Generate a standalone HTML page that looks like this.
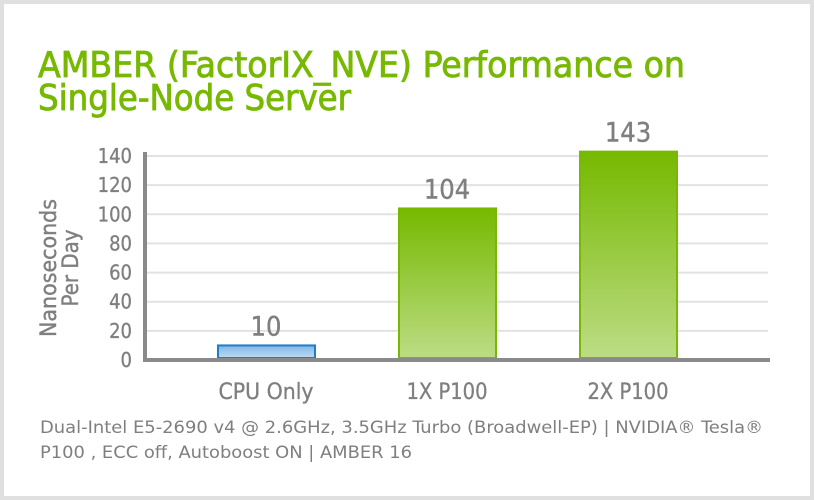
<!DOCTYPE html>
<html><head><meta charset="utf-8"><style>
html,body{margin:0;padding:0;background:#fff}
svg{display:block;font-family:"DejaVu Sans Condensed","Liberation Sans",sans-serif}
</style></head><body>
<svg id="c" width="814" height="500" viewBox="0 0 814 500">
<defs>
<linearGradient id="gg" x1="0" y1="0" x2="0" y2="1"><stop offset="0" stop-color="#76b900"/><stop offset="1" stop-color="#bcdc85"/></linearGradient>
<linearGradient id="bg" x1="0" y1="0" x2="0" y2="1"><stop offset="0" stop-color="#7fb6e6"/><stop offset="1" stop-color="#bfdcf3"/></linearGradient>
</defs>
<rect x="2" y="2" width="810" height="496" fill="#fff" stroke="#e0e0e0" stroke-width="4"/>
<text x="38" y="77" font-size="36" fill="#76b900" stroke="#76b900" stroke-width="0.8" textLength="647" lengthAdjust="spacingAndGlyphs">AMBER (FactorIX_NVE) Performance on</text>
<text x="38" y="110" font-size="36" fill="#76b900" stroke="#76b900" stroke-width="0.8" textLength="313" lengthAdjust="spacingAndGlyphs">Single-Node Server</text>
<g id="grid"></g>
<g id="bars"></g>
<line x1="145" y1="152" x2="145" y2="361" stroke="#8a8a8a" stroke-width="4"/>
<line x1="143" y1="360" x2="770" y2="360" stroke="#8a8a8a" stroke-width="4"/>
<g transform="translate(56,268) rotate(-90)" fill="#7f7f7f" stroke="#7f7f7f" stroke-width="0.4" font-size="22" text-anchor="middle">
<text x="0" y="0" textLength="138" lengthAdjust="spacingAndGlyphs">Nanoseconds</text>
<text x="0" y="22" textLength="77" lengthAdjust="spacingAndGlyphs">Per Day</text>
</g>
<text x="40" y="433" font-size="17" fill="#7f7f7f" textLength="723" lengthAdjust="spacingAndGlyphs">Dual-Intel E5-2690 v4 @ 2.6GHz,  3.5GHz Turbo (Broadwell-EP)  |  NVIDIA® Tesla®</text>
<text x="40" y="458" font-size="17" fill="#7f7f7f" textLength="372" lengthAdjust="spacingAndGlyphs">P100 , ECC off, Autoboost ON  |  AMBER 16</text>
</svg>
<script>
const categories = ["CPU Only", "1X P100", "2X P100"];
const values = [10, 104, 143];
const yTicks = [0, 20, 40, 60, 80, 100, 120, 140];
const NS = "http://www.w3.org/2000/svg";
const y = v => 360 - v * (204 / 140);
const xc = i => 266 + i * 181;
const grid = document.getElementById("grid");
const bars = document.getElementById("bars");
function mk(tag, attrs, parent, text) {
  const e = document.createElementNS(NS, tag);
  for (const k in attrs) e.setAttribute(k, attrs[k]);
  if (text !== undefined) e.textContent = text;
  parent.appendChild(e);
  return e;
}
yTicks.forEach(t => {
  if (t > 0) {
    const l = mk("line", {x1: 147, x2: 768, y1: y(t), y2: y(t), stroke: "#e2e2e2", "stroke-width": 2}, grid);
    
    
  }
  const tx = mk("text", {x: 132, y: y(t) + 7, "font-size": 20, fill: "#7f7f7f", stroke: "#7f7f7f", "stroke-width": 0.3, "text-anchor": "end"}, grid, String(t));
  
  
});
categories.forEach((c, i) => {
  const v = values[i];
  const top = y(v);
  const isCpu = i === 0;
  const r = mk("rect", {x: xc(i) - 48, y: top, width: 97, height: 358 - top,
    fill: isCpu ? "url(#bg)" : "url(#gg)", stroke: isCpu ? "#1f7dc9" : "#76b900", "stroke-width": 2}, bars);
  
  
  const vl = mk("text", {x: xc(i), y: top - 10, "font-size": 27, fill: "#7f7f7f", stroke: "#7f7f7f", "stroke-width": 0.4, "text-anchor": "middle"}, bars, String(v));
  
  
  const cl = mk("text", {x: xc(i), y: 399, "font-size": 22, fill: "#7f7f7f", stroke: "#7f7f7f", "stroke-width": 0.3, "text-anchor": "middle", textLength: i === 0 ? 95 : 81, lengthAdjust: "spacingAndGlyphs"}, bars, c);
  
  
});
</script>
</body></html>
